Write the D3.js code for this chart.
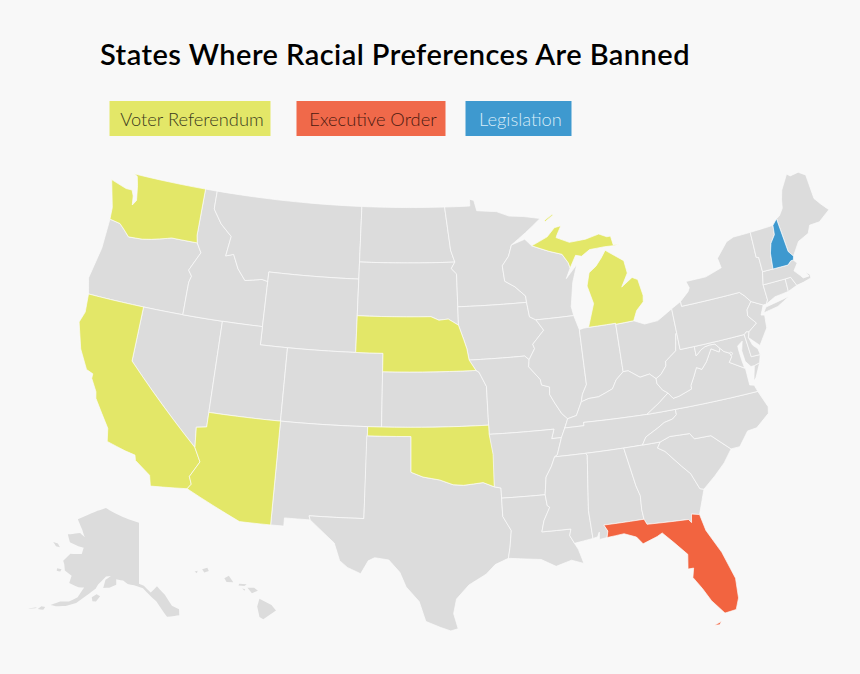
<!DOCTYPE html>
<html><head><meta charset="utf-8">
<script src="https://cdn.jsdelivr.net/npm/d3@7"></script>
<style>html,body{margin:0;padding:0;background:#f8f8f8;}svg{display:block;}</style>
</head><body><svg id="c" width="860" height="674"></svg>
<script>
const titleText = "States Where Racial Preferences Are Banned";
const legendLabels = ["Voter Referendum","Executive Order","Legislation"];
const legendColors = ["#e3e768","#f26440","#3e99cf"];
const legendText = ["#3a3a20","#4a1a10","#d8ecf8"];
const referendumStates = ["WA","CA","AZ","NE","OK","MI"];
const executiveStates = ["FL"];
const legislationStates = ["NH"];

// shared borders, [lon, lat]
const missMnWi=[[-92.75,44.75],[-92.0,44.4],[-91.25,43.85],[-91.22,43.5]];
const missWiIa=[[-91.22,43.5],[-91.1,42.7],[-90.64,42.5]];
const missIaIl=[[-90.64,42.5],[-90.15,41.9],[-91.05,41.2],[-90.95,40.95],[-91.42,40.38]];
const missMoIl=[[-91.42,40.38],[-91.5,40.0],[-90.75,39.25],[-90.7,38.95],[-90.15,38.8],[-90.2,38.4],[-89.9,37.9],[-89.5,37.3],[-89.13,36.98]];
const missMoKy=[[-89.13,36.98],[-89.4,36.5]];
const missMoTn=[[-89.4,36.5],[-89.7,36.0]];
const missArTn=[[-89.7,36.0],[-89.9,35.55],[-90.1,35.1],[-90.3,35.0]];
const missArMs=[[-90.3,35.0],[-90.58,34.5],[-91.0,33.95],[-91.17,33.0]];
const missLaMs=[[-91.17,33.0],[-91.1,32.4],[-90.95,32.3],[-91.4,31.6],[-91.6,31.0],[-89.73,31.0],[-89.85,30.65],[-89.6,30.2]];
const ohioIlKy=[[-89.13,36.98],[-88.5,37.1],[-88.05,37.8]];
const ohioInKy=[[-88.05,37.8],[-87.5,37.93],[-86.8,37.95],[-86.3,38.1],[-85.75,38.27],[-85.4,38.72],[-84.82,39.1]];
const ohioOhKy=[[-84.82,39.1],[-84.45,39.1],[-83.7,38.65],[-83.0,38.73],[-82.6,38.42]];
const ohioOhWv=[[-82.6,38.42],[-82.2,38.6],[-81.75,39.0],[-81.7,39.25],[-80.85,39.7],[-80.6,40.6],[-80.52,40.64]];
const kyWv=[[-82.6,38.42],[-82.6,38.15],[-82.3,37.75],[-81.97,37.54]];
const kyVa=[[-81.97,37.54],[-82.7,37.1],[-83.67,36.6]];
const kyTn=[[-83.67,36.6],[-86.5,36.65],[-88.07,36.68],[-88.07,36.5],[-89.4,36.5]];
const wvVa=[[-81.97,37.54],[-81.68,37.2],[-81.25,37.25],[-80.3,37.5],[-80.3,37.68],[-79.95,38.15],[-79.65,38.58],[-79.3,38.42],[-78.87,38.77],[-78.35,39.4],[-77.83,39.13],[-77.72,39.32]];
const wvMd=[[-77.72,39.32],[-78.0,39.6],[-78.4,39.62],[-78.75,39.58],[-79.05,39.47],[-79.49,39.2],[-79.48,39.72]];
const vaMd=[[-77.72,39.32],[-77.5,39.1],[-77.12,38.93],[-77.04,38.72],[-77.3,38.45],[-76.95,38.27],[-76.35,37.95]];
const vaNc=[[-75.87,36.55],[-81.68,36.59]];
const vaTn=[[-81.68,36.59],[-83.67,36.6]];
const ncTn=[[-81.68,36.59],[-81.68,36.3],[-82.0,36.1],[-82.6,36.0],[-83.1,35.77],[-84.0,35.4],[-84.32,35.0]];
const ncSc=[[-83.11,35.0],[-82.4,35.2],[-81.05,35.15],[-80.8,34.82],[-79.67,34.8],[-78.55,33.86]];
const gaSc=[[-83.11,35.0],[-83.35,34.7],[-82.9,34.45],[-82.0,33.5],[-81.5,33.0],[-81.1,32.1],[-80.85,32.03]];
const alGa=[[-85.6,35.0],[-85.18,32.87],[-85.0,32.3],[-85.05,31.55],[-85.0,31.0]];
const gaFl=[[-85.0,31.0],[-84.86,30.7],[-82.2,30.57],[-82.05,30.37],[-81.95,30.83],[-81.45,30.72]];
const alMs=[[-88.2,35.0],[-88.1,34.9],[-88.47,31.9],[-88.4,30.35]];
const wiMi=[[-90.4,46.55],[-89.1,46.15],[-88.1,45.9],[-87.7,45.4],[-87.6,45.1]];
const mtId=[[-116.05,49],[-116.05,48.0],[-115.3,47.25],[-114.35,46.65],[-114.55,45.55],[-113.95,45.7],[-113.45,44.95],[-112.8,44.37],[-111.5,44.55],[-111.05,44.47]];
const idOr=[[-117.03,42],[-117.03,43.8],[-116.9,44.15],[-117.2,44.45],[-116.5,45.5],[-116.92,46.0]];
const orWa=[[-116.92,46.0],[-118.98,46.0],[-119.3,45.93],[-120.5,45.7],[-121.2,45.6],[-122.3,45.55],[-122.8,45.9],[-123.2,46.15],[-124.05,46.25]];
const azCa=[[-114.63,35.0],[-114.15,34.27],[-114.7,33.4],[-114.5,33.0],[-114.72,32.72]];
const azNv=[[-114.05,37],[-114.05,36.2],[-114.75,36.1],[-114.63,35.0]];
const okTx=[[-100,36.5],[-100,34.56],[-99.2,34.3],[-98.1,34.13],[-97.2,33.85],[-96.5,33.8],[-95.2,33.9],[-94.48,33.64]];
const arOk=[[-94.62,36.5],[-94.43,35.4],[-94.48,33.64]];
const neSd=[[-104.05,43],[-98.5,43],[-97.9,42.8],[-97.2,42.85],[-96.45,42.5]];
const iaNe=[[-96.45,42.5],[-96.1,41.7],[-95.9,41.2],[-95.77,40.58]];
const moNe=[[-95.77,40.58],[-95.31,40.0]];
const ksMo=[[-95.31,40.0],[-95.1,39.9],[-94.62,39.1],[-94.62,37]];
const mnSd=[[-96.45,43.5],[-96.45,45.3],[-96.85,45.6],[-96.55,45.95]];
const mnNd=[[-96.55,45.95],[-96.85,46.6],[-97.23,49]];
const laTx=[[-94.04,33.0],[-94.04,32.0],[-93.55,31.2],[-93.7,30.3],[-93.85,29.7]];
const wabash=[[-88.05,37.8],[-87.9,38.2],[-87.53,38.7],[-87.53,39.35],[-87.52,41.7]];
const paDel=[[-74.7,41.36],[-75.13,40.98],[-75.2,40.65],[-74.72,40.15],[-75.4,39.8]];
const nyPa=[[-79.76,42.0],[-75.35,42.0],[-75.05,41.75],[-74.7,41.36]];
const vtNh=[[-71.5,45.01],[-71.6,44.5],[-72.05,44.1],[-72.3,43.6],[-72.46,42.73]];
const nyVt=[[-73.34,45.0],[-73.4,44.0],[-73.43,43.6],[-73.25,43.55],[-73.27,42.75]];
const r=a=>a.slice().reverse();
const stateRings={
WA:[[...r(orWa),[-116.92,46.0],[-117.04,46.4],[-117.03,49],[-123.03,49],[-122.75,48.9],[-122.55,48.4],[-122.35,47.6],[-122.6,47.3],[-122.7,47.8],[-122.9,48.1],[-123.4,48.1],[-124.72,48.38],[-124.1,46.9]]],
OR:[[[-124.2,42],[-120,42],...idOr,...orWa,[-124.1,44.6],[-124.5,42.85]]],
CA:[[[-124.2,42],[-120,42],[-120,39],...azCa,[-117.12,32.53],[-117.3,33.1],[-118.4,33.75],[-118.5,34.03],[-119.2,34.15],[-120.5,34.45],[-120.65,35.15],[-121.9,36.6],[-122.0,36.95],[-122.5,37.6],[-122.5,37.85],[-123.0,38.0],[-123.75,39.0],[-124.35,40.4],[-124.1,41.0]]],
NV:[[[-120,42],[-114.05,42],...azNv,[-120,39]]],
ID:[[[-117.03,49],...mtId,[-111.05,42],...idOr,[-117.04,46.4]]],
MT:[[...mtId,[-111.05,45],[-104.05,45],[-104.05,49]]],
WY:[[[-111.05,45],[-104.05,45],[-104.05,41],[-111.05,41]]],
UT:[[[-114.05,42],[-111.05,42],[-111.05,41],[-109.05,41],[-109.05,37],[-114.05,37]]],
AZ:[[...azNv,...azCa,[-111.07,31.33],[-109.05,31.33],[-109.05,37]]],
CO:[[[-109.05,41],[-102.05,41],[-102.04,37],[-109.05,37]]],
NM:[[[-109.05,37],[-103,37],[-103.06,32],[-106.62,32],[-106.53,31.78],[-108.2,31.78],[-108.2,31.33],[-109.05,31.33]]],
ND:[[[-104.05,49],[-97.23,49],...r(mnNd),[-104.05,45.94]]],
SD:[[[-104.05,45.94],[-96.55,45.95],...r(mnSd),...r(neSd)]],
NE:[[...neSd,...iaNe,...moNe,[-102.05,40],[-102.05,41],[-104.05,41]]],
KS:[[[-102.05,40],...ksMo,[-102.04,37]]],
OK:[[[-103,37],[-94.62,37],...arOk,...r(okTx),[-103,36.5]]],
TX:[[[-103.04,36.5],...okTx,[-94.04,33.55],...laTx,[-94.7,29.4],[-95.3,28.9],[-96.4,28.35],[-97.2,27.6],[-97.4,26.8],[-97.15,25.96],[-97.6,25.85],[-98.2,26.05],[-99.1,26.4],[-99.5,27.5],[-100.3,28.3],[-100.7,29.1],[-101.4,29.77],[-102.3,29.88],[-102.7,29.7],[-103.15,28.98],[-104.0,29.3],[-104.5,29.65],[-104.9,30.6],[-106.0,31.4],[-106.53,31.78],[-106.62,32],[-103.06,32]]],
MN:[[[-97.23,49],[-95.15,49],[-95.15,49.38],[-94.8,49.3],[-94.6,48.72],[-93.0,48.6],[-92.0,48.3],[-90.8,48.2],[-89.5,48.0],[-90.8,47.3],[-92.0,46.7],[-92.3,46.1],[-92.85,45.6],...missMnWi,...mnSd,...mnNd.slice(1)]],
IA:[[...missWiIa,...missIaIl,[-91.72,40.6],...r(iaNe),[-96.45,43.5]]],
MO:[[[-91.72,40.6],...missMoIl,...missMoKy,...missMoTn,[-90.37,36.0],[-90.15,36.5],[-94.62,36.5],...r(ksMo),...r(moNe)]],
AR:[[[-94.62,36.5],[-90.15,36.5],[-90.37,36.0],...missArTn,...missArMs,[-94.04,33.0],[-94.04,33.55],...r(arOk).slice(0,1)]],
LA:[[...laTx.slice(0,1),...missLaMs,[-89.4,29.85],[-89.15,29.05],[-89.9,29.3],[-90.9,29.05],[-91.8,29.5],[-92.3,29.55],...r(laTx)]],
WI:[[[-92.0,46.7],[-90.9,46.95],...wiMi,[-88.0,44.55],[-87.05,45.25],[-87.55,44.3],[-87.9,43.0],[-87.8,42.5],...r(missWiIa),...r(missMnWi),[-92.85,45.6],[-92.3,46.1]]],
IL:[[[-90.64,42.5],[-87.8,42.5],...r(wabash),...r(ohioIlKy),...r(missMoIl),...r(missIaIl)]],
IN:[[[-87.52,41.7],[-87.2,41.75],[-86.82,41.76],[-84.8,41.76],...r(ohioInKy),...wabash.slice(1)]],
OH:[[[-84.8,41.7],[-83.45,41.73],[-82.7,41.45],[-81.7,41.5],[-80.52,41.98],...r(ohioOhWv),...r(ohioOhKy)]],
KY:[[...ohioIlKy,...ohioInKy,...ohioOhKy,...kyWv,...kyVa,...kyTn,...r(missMoKy)]],
TN:[[[-90.3,35.0],[-88.2,35.0],[-84.32,35.0],...r(ncTn),...vaTn,...kyTn,...missMoTn,...missArTn]],
MS:[[...missArMs,...missLaMs,...r(alMs)]],
AL:[[...alMs.slice(0,1),...alGa,[-87.6,31],[-87.4,30.65],[-87.5,30.3],[-88.0,30.25],[-87.95,30.65],[-88.1,30.4],...r(alMs)]],
GA:[[...alGa,...gaFl,[-80.85,32.03],...r(gaSc)]],
FL:[[[-87.6,31],...gaFl,[-81.25,29.8],[-80.55,28.45],[-80.05,26.9],[-80.12,25.8],[-80.4,25.2],[-81.1,25.13],[-81.75,25.95],[-82.15,26.7],[-82.6,27.4],[-82.45,27.9],[-82.8,27.9],[-82.65,28.7],[-83.4,29.5],[-84.0,30.1],[-84.35,29.95],[-85.3,29.68],[-85.65,30.1],[-86.4,30.38],[-87.5,30.3],[-87.4,30.65]],
    [[-81.85,24.58],[-81.4,24.72],[-81.55,24.55]]],
SC:[[...ncSc,[-79.2,33.2],[-80.0,32.6],...r(gaSc)]],
NC:[[[-84.32,35],...ncSc,[-77.95,33.87],[-77.2,34.6],[-76.55,34.65],[-75.55,35.25],[-75.45,35.6],...vaNc,...ncTn]],
VA:[[...r(vaTn),...r(vaNc),[-76.0,36.92],[-76.3,37.0],[-76.3,37.9],...r(vaMd),...r(wvVa),...kyVa]],
WV:[[...ohioOhWv,[-80.52,39.72],[-79.48,39.72],...r(wvMd),...r(wvVa),...r(kyWv)]],
MD:[[[-79.48,39.72],[-75.79,39.72],[-75.7,38.46],[-75.05,38.45],[-75.24,38.03],[-75.65,37.95],[-75.9,37.95],[-76.2,38.3],[-76.25,38.9],[-76.05,39.4],[-76.45,39.2],[-76.45,38.9],[-76.4,38.3],...r(vaMd),...wvMd]],
DE:[[[-75.79,39.72],[-75.6,39.84],[-75.4,39.8],[-75.55,39.5],[-75.4,39.05],[-75.1,38.78],[-75.05,38.45],[-75.7,38.46]]],
PA:[[[-80.52,41.98],[-79.76,42.27],...nyPa,...paDel,[-75.6,39.84],[-75.79,39.72],[-80.52,39.72]]],
NJ:[[...paDel.slice(0,1),[-73.9,41.0],[-74.25,40.5],[-74.0,40.45],[-74.1,39.75],[-74.9,38.93],[-75.55,39.5],...r(paDel)]],
NY:[[[-79.76,42.27],[-79.06,42.7],[-78.9,42.9],[-79.05,43.27],[-77.5,43.27],[-76.2,43.55],[-76.3,44.1],[-75.3,44.85],[-74.7,45],...nyVt,[-73.5,42.05],[-73.49,41.2],[-73.65,41],[-73.9,41],...r(nyPa)],
    [[-74.0,40.6],[-73.75,40.85],[-72.6,40.98],[-71.87,41.07],[-72.9,40.7],[-74.0,40.58]]],
CT:[[[-73.5,42.05],[-71.8,42.02],[-71.85,41.32],[-72.9,41.25],[-73.65,41],[-73.49,41.2]]],
RI:[[[-71.8,42.02],[-71.38,42.02],[-71.12,41.5],[-71.85,41.32]]],
MA:[[[-73.27,42.75],[-72.46,42.73],[-71.3,42.7],[-71.0,42.87],[-70.8,42.87],[-70.6,42.65],[-71.0,42.3],[-70.65,41.95],[-70.5,41.78],[-70.05,41.78],[-70.25,42.07],[-69.95,41.85],[-69.97,41.65],[-70.6,41.55],[-71.12,41.5],[-71.38,42.02],[-71.8,42.02],[-73.5,42.05]]],
VT:[[...nyVt,...r(vtNh)]],
NH:[[...vtNh,[-71.3,42.7],[-71,42.87],[-70.8,42.87],[-70.7,43.07],[-70.98,43.4],[-71.08,45.3]]],
ME:[[[-71.08,45.3],[-70.8,45.4],[-70.4,45.75],[-70.25,46.2],[-70,46.7],[-69.23,47.46],[-69,47.3],[-68.3,47.35],[-67.8,47.07],[-67.8,45.7],[-67.45,45.3],[-67,44.85],[-68,44.4],[-68.8,44.4],[-69.1,44],[-70,43.75],[-70.7,43.07],[-70.98,43.4]]],
MI:[[[-90.4,46.55],[-89.1,46.95],[-88.45,47.4],[-87.9,47.47],[-88.3,47.0],[-88.4,46.85],[-87.4,46.5],[-86.1,46.55],[-85,46.72],[-84.4,46.5],[-84.1,46.5],[-84.0,46.0],[-83.5,46.0],[-83.9,45.95],[-84.7,45.98],[-85.9,45.95],[-86.6,45.65],[-87.05,45.75],...r(wiMi).slice(0,-1)],
    [[-86.82,41.76],[-84.8,41.76],[-84.8,41.7],[-83.45,41.73],[-83.1,42.25],[-82.5,42.65],[-82.42,43],[-82.6,43.9],[-83,44.07],[-83.9,43.65],[-83.3,44.35],[-83.4,45.05],[-84.7,45.78],[-85.1,45.4],[-85.6,45],[-86.2,44.7],[-86.5,44],[-86.2,43]],
    [[-89.2,47.85],[-88.5,48.15],[-88.45,48.1],[-89.1,47.8]]],
DC:[[[-77.12,38.93],[-77.04,38.99],[-76.91,38.89],[-77.04,38.79]]],
};
const vaShore=[[-75.24,38.03],[-75.65,37.95],[-75.95,37.15],[-75.75,37.3]];
stateRings.VA.push(vaShore);
const alaskaRings=[
[[-141,69.65],[-141,60.3],[-139.5,60],[-137.5,58.9],[-135.5,59.8],[-133.4,58.4],[-131.8,56.6],[-130,55.9],[-130.2,55],[-131.5,55],[-133.5,55],[-134.7,56.2],[-136,57.5],[-137.5,58.3],[-139.8,59.6],[-142.5,60.05],[-144.5,60.2],[-146,60.7],[-148.2,60.8],[-148,59.95],[-150,59.4],[-151.8,59.2],[-151.5,60.5],[-150,61.2],[-151.5,61],[-153.5,59.6],[-154,58.9],[-156.5,57.4],[-158.5,56.1],[-161,55.2],[-163.5,54.7],[-164.9,54.6],[-162.8,55.6],[-160.5,56],[-158.5,57],[-157.4,58.7],[-159,58.5],[-162,58.7],[-162,59.9],[-164.5,60.3],[-165.4,61.2],[-166.1,61.6],[-164.7,63],[-161,63.5],[-161,64.5],[-163,64.5],[-166.3,64.6],[-168.1,65.6],[-164,66.5],[-161.8,66.1],[-163.7,67.1],[-166.8,68.35],[-163,69.7],[-160,70.6],[-156.6,71.35],[-152,70.85],[-148,70.4],[-144,70]],
[[-154.6,57.5],[-153.4,58.1],[-152.3,57.9],[-153.2,57.0],[-154.2,56.9]],
[[-167,60.2],[-165.6,60.3],[-165.7,59.9],[-166.8,59.8]],
[[-171.7,63.6],[-170,63.7],[-168.8,63.3],[-170.2,63.2]],
[[-167,53.9],[-166,54],[-166.2,53.5],[-167.6,53.3]],
[[-169.5,52.9],[-168,53.5],[-168.2,53.25],[-169.8,52.75]]];
const hawaiiRings=[
[[-155.9,20.25],[-155.1,19.85],[-154.8,19.5],[-155.65,18.95],[-155.9,19.1],[-156.05,19.75]],
[[-156.7,20.95],[-156.25,20.95],[-156,20.75],[-156.4,20.6]],
[[-157.25,21.2],[-156.75,21.17],[-156.9,21.05],[-157.3,21.08]],
[[-157.05,20.9],[-156.85,20.85],[-156.9,20.75]],
[[-158.25,21.55],[-157.95,21.7],[-157.65,21.3],[-158.1,21.3]],
[[-159.75,22.1],[-159.4,22.2],[-159.3,22.0],[-159.6,21.9]],
[[-160.25,21.95],[-160.05,22.0],[-160.1,21.85]]];

const svg=d3.select("#c");
svg.append("rect").attr("width",860).attr("height",674).attr("fill","#f8f8f8");
const S=1046;
const lower=d3.geoConicEqualArea().rotate([100,0]).center([0,38.7]).parallels([29.5,45.5]).scale(S).translate([411,396]);
const alaska=d3.geoConicEqualArea().rotate([141,0]).center([0,65]).parallels([55,65]).scale(374).translate([139,553]);
const hawaii=d3.geoConicEqualArea().rotate([157,0]).center([-3,19.9]).parallels([8,18]).scale(910).translate([198,604]);
const dens=ring=>{const o=[];ring.forEach((p,i)=>{const q=ring[(i+1)%ring.length];const n=Math.ceil(Math.abs(q[0]-p[0]));for(let k=0;k<Math.max(n,1);k++)o.push([p[0]+(q[0]-p[0])*k/Math.max(n,1),p[1]+(q[1]-p[1])*k/Math.max(n,1)]);});o.push(o[0]);return o;};
const pathOf=proj=>d3.geoPath(d3.geoTransform({point(x,y){const p=proj([x,y]);this.stream.point(p[0],p[1]);}}));
const geom=rings=>({type:"MultiPolygon",coordinates:rings.map(x=>[dens(x)])});
const colorOf=k=>referendumStates.includes(k)?legendColors[0]:executiveStates.includes(k)?legendColors[1]:legislationStates.includes(k)?legendColors[2]:"#dcdcdc";
const g=svg.append("g").attr("stroke","#fbfbfb").attr("stroke-width",0.7).attr("stroke-linejoin","round");
const keys=Object.keys(stateRings).sort((a,b)=>(colorOf(a)!=="#dcdcdc")-(colorOf(b)!=="#dcdcdc"));
const lp=pathOf(lower);
g.selectAll("path.st").data(keys).join("path").attr("class","st").attr("d",k=>lp(geom(stateRings[k]))).attr("fill",colorOf);
g.append("path").attr("d",pathOf(alaska)(geom(alaskaRings))).attr("fill","#dcdcdc").attr("stroke","none");
g.append("path").attr("d",pathOf(hawaii)(geom(hawaiiRings))).attr("fill","#dcdcdc").attr("stroke","none");

svg.append("text").text(titleText).attr("x",100).attr("y",65).attr("font-family","Lato").attr("font-weight",600).attr("font-size",29).attr("letter-spacing",0.45).attr("fill","#000");
const lx=d3.scaleOrdinal().domain(legendLabels).range([[109.5,161],[296.5,149],[465.5,106]]);
const lg=svg.append("g").selectAll("g").data(legendLabels).join("g");
lg.append("rect").attr("x",d=>lx(d)[0]).attr("y",101).attr("width",d=>lx(d)[1]).attr("height",35).attr("fill",(d,i)=>i==1?"#f0694a":legendColors[i]);
lg.append("text").text(d=>d).attr("x",d=>lx(d)[0]+lx(d)[1]/2+2).attr("y",126).attr("text-anchor","middle").attr("font-family","Lato").attr("font-weight",300).attr("font-size",18.3).attr("fill",(d,i)=>legendText[i]);
</script></body></html>
